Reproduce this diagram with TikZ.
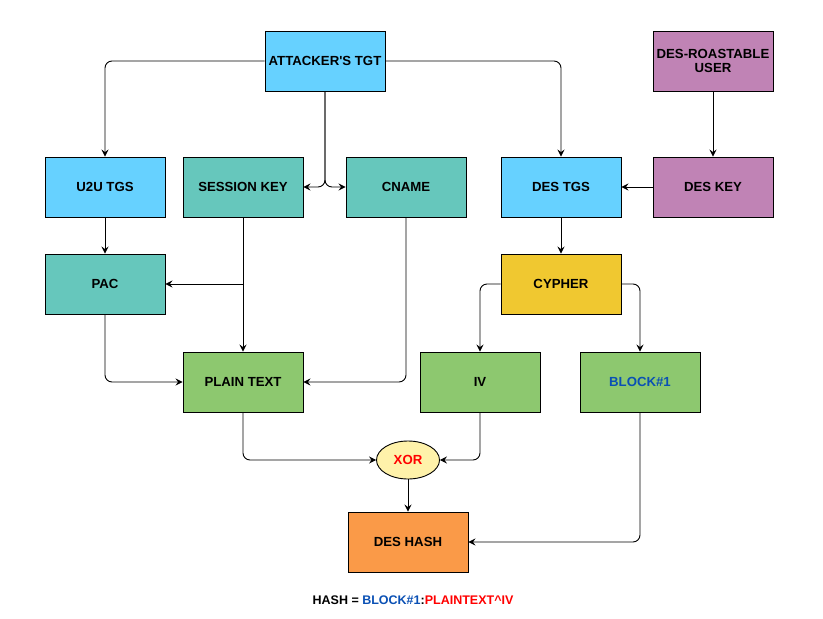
\documentclass[tikz,border=0pt]{standalone}
\usepackage{fontspec}
\setmainfont{Liberation Sans}[Ligatures=TeXOff]
\usetikzlibrary{shapes.geometric,arrows.meta}
\definecolor{cblue}{HTML}{66D1FF}
\definecolor{cteal}{HTML}{66C7BC}
\definecolor{cpurple}{HTML}{C083B5}
\definecolor{cyellow}{HTML}{F0C830}
\definecolor{cgreen}{HTML}{8DC86F}
\definecolor{corange}{HTML}{FA9A48}
\definecolor{cxor}{HTML}{FFF2AA}
\definecolor{tblue}{HTML}{0A50B4}
\definecolor{tred}{HTML}{FF0000}
\tikzset{
  box/.style={draw=black,line width=0.9pt,minimum width=120pt,minimum height=60pt,inner sep=0pt,align=center,font=\fontsize{13.2}{14.5}\selectfont\bfseries},
  arr/.style={draw=black,line width=0.9pt,rounded corners=7pt,-{Stealth[length=7pt,width=7pt,inset=2.5pt]}},
}
\begin{document}
\begin{tikzpicture}[x=1pt,y=-1pt]
\useasboundingbox (0,0) rectangle (823,619);
\node[box,fill=cblue] (tgt) at (325,61) {ATTACKER'S TGT};
\node[box,fill=cpurple] (user) at (713,61) {DES-ROASTABLE\\USER};
\node[box,fill=cblue] (u2u) at (105,187) {U2U TGS};
\node[box,fill=cteal] (sk) at (243,187) {SESSION KEY};
\node[box,fill=cteal] (cname) at (406,187) {CNAME};
\node[box,fill=cblue] (dtgs) at (561,187) {DES TGS};
\node[box,fill=cpurple] (dkey) at (713,187) {DES KEY};
\node[box,fill=cteal] (pac) at (105,284) {PAC};
\node[box,fill=cyellow] (cy) at (561,284) {CYPHER};
\node[box,fill=cgreen] (pt) at (243,382) {PLAIN TEXT};
\node[box,fill=cgreen] (iv) at (480,382) {IV};
\node[box,fill=cgreen,text=tblue] (b1) at (640,382) {BLOCK\#1};
\node[box,ellipse,fill=cxor,text=tred,minimum width=63pt,minimum height=38pt] (xor) at (408,460) {XOR};
\node[box,fill=corange] (hash) at (408,542) {DES HASH};
\node[font=\fontsize{12.5}{14}\selectfont\bfseries] (formula) at (413,600) {HASH = \textcolor{tblue}{BLOCK\#1}:\textcolor{tred}{PLAINTEXT\^{}IV}};
\coordinate (skj) at (243,284);
\draw[arr] (tgt.west) -| (u2u.north);
\draw[arr] (tgt.east) -| (dtgs.north);
\draw[arr] (tgt.south) |- (sk.east);
\draw[arr] (tgt.south) |- (cname.west);
\draw[arr] (user.south) -- (dkey.north);
\draw[arr] (dkey.west) -- (dtgs.east);
\draw[arr] (dtgs.south) -- (cy.north);
\draw[arr] (u2u.south) -- (pac.north);
\draw[arr] (sk.south) -- (pt.north);
\draw[arr] (skj) -- (pac.east);
\draw[arr] (pac.south) |- (pt.west);
\draw[arr] (cname.south) |- (pt.east);
\draw[arr] (cy.west) -| (iv.north);
\draw[arr] (cy.east) -| (b1.north);
\draw[arr] (pt.south) |- (xor.west);
\draw[arr] (iv.south) |- (xor.east);
\draw[arr] (xor.south) -- (hash.north);
\draw[arr] (b1.south) |- (hash.east);
\end{tikzpicture}
\end{document}
